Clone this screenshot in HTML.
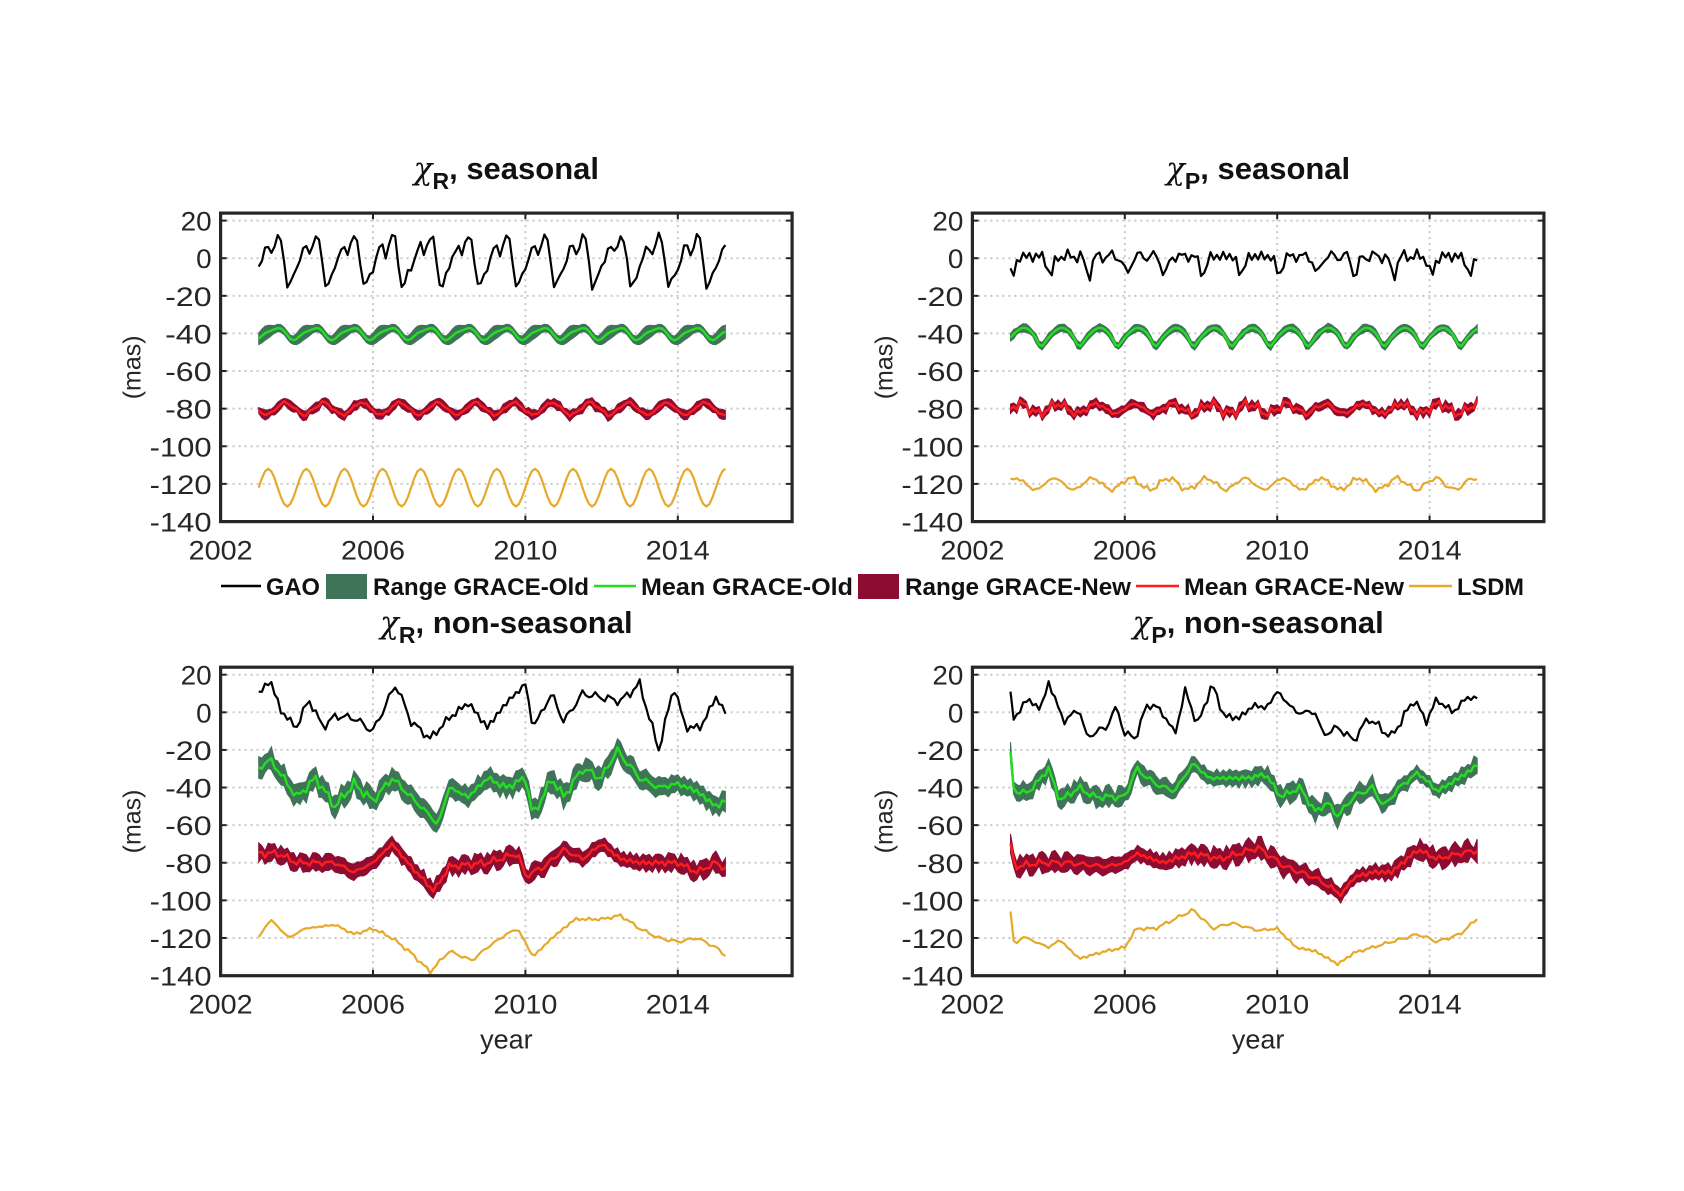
<!DOCTYPE html>
<html><head><meta charset="utf-8"><style>
html,body{margin:0;padding:0;background:#fff;}
svg{display:block;}
text{font-family:"Liberation Sans",Arial,sans-serif;}
</style></head><body>
<svg id="s" width="1684" height="1191" viewBox="0 0 1684 1191" xmlns="http://www.w3.org/2000/svg">
<rect width="1684" height="1191" fill="#fff"/>
</svg>
<script>
const S=document.getElementById('s');const NS='http://www.w3.org/2000/svg';
function el(n,a,t){const e=document.createElementNS(NS,n);for(const k in a)e.setAttribute(k,a[k]);if(t!==undefined)e.textContent=t;S.appendChild(e);return e;}
function interp(k,t){for(let i=0;i<k.length-1;i++){if(t<=k[i+1][0]){const a=k[i],b=k[i+1];const f=(t-a[0])/(b[0]-a[0]);return a[1]+f*(b[1]-a[1]);}}return k[k.length-1][1];}
function nz(t,s){return Math.sin(t*37.1+s)*0.6+Math.sin(t*91.7+2*s)*0.4+Math.sin(t*17.3+s*3)*0.5;}
const T=[];for(let t=2003.0;t<=2015.31;t+=1/12)T.push(t);
function periodic(keys,t,off){let p=((t-off)%1+1)%1;return interp(keys,p);}
function axes(x0,y0,title,sub,name,xlabel){
 const w=571.5,top=y0-7.5,bot=y0+301;const X=t=>x0+(t-2002)*38.1;const Y=v=>y0+(20-v)*1.8806;
 for(let v=20;v>=-140;v-=20){el('line',{x1:x0,x2:x0+w,y1:Y(v),y2:Y(v),stroke:'#c8c8c8','stroke-width':2,'stroke-dasharray':'2,4'});}
 for(const yr of [2006,2010,2014]){el('line',{x1:X(yr),x2:X(yr),y1:top,y2:bot,stroke:'#c8c8c8','stroke-width':2,'stroke-dasharray':'2,4'});}
 return {X,Y,x0,w,top,bot,title,sub,name,xlabel};
}
function tx(x,y,s,anchor,w){const a={x,y,'font-size':27,'text-anchor':anchor,fill:'#262626'};if(w){a.textLength=w;a.lengthAdjust='spacingAndGlyphs';}return el('text',a,s);}
function finish(a){
 const {X,Y,x0,w,top,bot}=a;
 for(let v=20;v>=-140;v-=20){el('line',{x1:x0,x2:x0+6,y1:Y(v),y2:Y(v),stroke:'#222','stroke-width':2});el('line',{x1:x0+w-6,x2:x0+w,y1:Y(v),y2:Y(v),stroke:'#222','stroke-width':2});
  const s=String(v);tx(x0-9,Y(v)+10,s,'end',s.length*15.5);}
 for(const yr of [2002,2006,2010,2014]){el('line',{x1:X(yr),x2:X(yr),y1:bot,y2:bot-6,stroke:'#222','stroke-width':2});el('line',{x1:X(yr),x2:X(yr),y1:top,y2:top+6,stroke:'#222','stroke-width':2});
  tx(X(yr),bot+38,String(yr),'middle',64);}
 el('rect',{x:x0,y:top,width:w,height:bot-top,fill:'none',stroke:'#262626','stroke-width':3.2});
 const cy=(top+bot)/2;
 el('text',{x:0,y:0,'font-size':25,'text-anchor':'middle',fill:'#262626',transform:`translate(${x0-80},${cy}) rotate(-90)`},'(mas)');
 const cx=x0+w/2;const t=el('text',{x:cx,y:top-34,'font-size':31,'font-weight':'bold','text-anchor':'middle',fill:'#111'});
 const a1=document.createElementNS(NS,'tspan');a1.setAttribute('font-family','"DejaVu Serif",serif');a1.setAttribute('font-style','italic');a1.setAttribute('font-weight','normal');a1.textContent='χ';t.appendChild(a1);
 const a2=document.createElementNS(NS,'tspan');a2.setAttribute('font-size','23');a2.setAttribute('dy','10');a2.textContent=a.sub;t.appendChild(a2);
 const a3=document.createElementNS(NS,'tspan');a3.setAttribute('dy','-10');a3.textContent=', '+a.name;t.appendChild(a3);
 if(a.xlabel)tx(cx,bot+73,'year','middle');
}
function line(a,f,col,wd){let d='';T.forEach((t,i)=>{d+=(i?'L':'M')+a.X(t).toFixed(1)+','+a.Y(f(t)).toFixed(1);});el('path',{d,fill:'none',stroke:col,'stroke-width':wd||2.2,'stroke-linejoin':'round'});}
function band(a,f,hw,col){let d='';T.forEach((t,i)=>{d+=(i?'L':'M')+a.X(t).toFixed(1)+','+a.Y(f(t)+hw(t)).toFixed(1);});for(let i=T.length-1;i>=0;i--){const t=T[i];d+='L'+a.X(t).toFixed(1)+','+a.Y(f(t)-hw(t)).toFixed(1);}el('path',{d:d+'Z',fill:col,stroke:col,'stroke-width':1});}
const GB='#3f7459',GM='#22e01e',RB='#8c0c32',RM='#ff1c1c',LS='#e6a92a';
function draw(a,gao,g,gh,r,rh,l){band(a,g,gh,GB);line(a,g,GM,2.4);band(a,r,rh,RB);line(a,r,RM,2.4);line(a,l,LS,2.2);line(a,gao,'#000',2.2);finish(a);}
const XL=220.6,XR=972.4,YT=220.6,YB=674.7;
{const a=axes(XL,YT,'','R','seasonal');
 const gk=[[0,-18],[0.1,-10],[0.25,-5],[0.45,9],[0.55,1],[0.78,15],[1,-18]];
 draw(a,t=>periodic(gk,t,0.77)+nz(t,1)*1.5,
  t=>-40+3*Math.sin(2*Math.PI*(t-0.2))+0.8*Math.sin(4*Math.PI*t),t=>2+1.8*Math.max(0,Math.sin(2*Math.PI*(t+0.1))),
  t=>-80+interp([[0,-4],[0.5,4],[1,-4]],((t-0.2)%1+1)%1)+0.6*nz(t,3),t=>1.5+1.2*Math.abs(Math.sin(3*Math.PI*t)),
  t=>-122+10*Math.cos(2*Math.PI*(t-0.25)));}
{const a=axes(XR,YT,'','P','seasonal');
 draw(a,t=>1+3*nz(t,2)+(-10)*Math.exp(-Math.pow(((t-0.55)%1+1)%1-0.5,2)*80),
  t=>-40+3*Math.sin(2*Math.PI*(t-0.1))-4*Math.exp(-Math.pow(((t-0.3)%1+1)%1-0.5,2)*60),t=>1.5+0.8*Math.abs(nz(t,4)),
  t=>-80+2.5*Math.sin(2*Math.PI*(t))+2*nz(t,5),t=>1.5+1.2*Math.abs(nz(t,6)),
  t=>-120+3*Math.sin(2*Math.PI*(t+0.1))+1.2*nz(t,7));}
{const a=axes(XL,YB,'','R','non-seasonal',true);
 const gao=[[2003,10],[2003.3,17],[2003.6,0],[2004,-8],[2004.3,7],[2004.7,-8],[2005,-2],[2005.5,-3],[2006,-10],[2006.6,15],[2007,-5],[2007.5,-14],[2008,-3],[2008.5,5],[2009,-8],[2009.5,5],[2010,15],[2010.2,-8],[2010.7,10],[2011,-5],[2011.5,10],[2012,8],[2012.5,6],[2013,15],[2013.5,-20],[2013.9,14],[2014.2,-8],[2014.6,-8],[2015,8],[2015.4,-5]];
 const g=[[2003,-30],[2003.3,-25],[2004,-45],[2004.5,-35],[2005,-50],[2005.5,-38],[2006,-47],[2006.5,-35],[2007,-45],[2007.5,-55],[2007.7,-60],[2008,-40],[2008.5,-45],[2009,-35],[2009.5,-40],[2010,-35],[2010.2,-55],[2010.7,-35],[2011,-45],[2011.5,-30],[2012,-35],[2012.4,-20],[2013,-35],[2013.5,-40],[2014,-38],[2014.5,-42],[2015,-50],[2015.4,-45]];
 const r=[[2003,-75],[2003.5,-75],[2004,-80],[2005,-80],[2005.5,-85],[2006,-80],[2006.5,-70],[2007,-82],[2007.6,-95],[2008,-82],[2009,-80],[2009.8,-75],[2010,-87],[2010.5,-82],[2011,-73],[2011.5,-78],[2012,-70],[2012.5,-78],[2013,-80],[2014,-80],[2014.5,-85],[2015,-80],[2015.4,-85]];
 const l=[[2003,-120],[2003.3,-110],[2003.8,-120],[2004.2,-115],[2005,-113],[2005.5,-118],[2006,-115],[2006.5,-120],[2007,-128],[2007.5,-138],[2008,-127],[2008.6,-132],[2009,-125],[2009.5,-118],[2009.8,-115],[2010.2,-130],[2010.7,-120],[2011.3,-110],[2012,-110],[2012.5,-108],[2013,-115],[2013.5,-120],[2014,-122],[2014.5,-120],[2015,-125],[2015.4,-132]];
 draw(a,t=>interp(gao,t)+2*nz(t,8),t=>interp(g,t)+2*nz(t,9),t=>4+2*Math.abs(nz(t,10)),t=>interp(r,t)+1.5*nz(t,11),t=>3+2*Math.abs(nz(t,12)),t=>interp(l,t)+0.8*nz(t,13));}
{const a=axes(XR,YB,'','P','non-seasonal',true);
 const gao=[[2003,10],[2003.1,-5],[2003.4,7],[2003.8,2],[2004,16],[2004.4,-5],[2004.8,2],[2005,-13],[2005.5,-8],[2005.8,3],[2006,-12],[2006.3,-13],[2006.6,5],[2007,0],[2007.3,-12],[2007.6,12],[2007.9,-7],[2008.3,15],[2008.6,-2],[2009,-3],[2009.4,4],[2009.7,2],[2010,11],[2010.5,0],[2011,0],[2011.2,-12],[2011.6,-8],[2012,-15],[2012.4,-3],[2012.8,-10],[2013,-13],[2013.6,7],[2013.9,-5],[2014.2,7],[2014.6,0],[2015,8],[2015.4,7]];
 const g=[[2003,-22],[2003.1,-43],[2003.5,-42],[2004,-30],[2004.3,-47],[2004.8,-40],[2005.2,-45],[2005.6,-45],[2006,-45],[2006.3,-30],[2006.8,-38],[2007.3,-42],[2007.8,-27],[2008.2,-35],[2008.7,-35],[2009.2,-35],[2009.7,-33],[2010.1,-45],[2010.6,-40],[2011,-53],[2011.3,-48],[2011.6,-55],[2012,-45],[2012.5,-40],[2012.8,-50],[2013.2,-40],[2013.7,-32],[2014.2,-42],[2014.6,-37],[2015,-32],[2015.4,-25]];
 const r=[[2003,-70],[2003.1,-82],[2003.8,-80],[2004.5,-80],[2005.5,-82],[2006,-80],[2006.3,-75],[2007,-80],[2007.8,-75],[2008.5,-78],[2009.5,-72],[2010.2,-82],[2011,-88],[2011.7,-97],[2012,-88],[2012.5,-85],[2013,-85],[2013.7,-73],[2014.2,-78],[2014.8,-75],[2015.4,-73]];
 const l=[[2003,-106],[2003.1,-125],[2003.3,-119],[2004,-125],[2004.3,-121],[2004.8,-131],[2005.5,-127],[2006,-125],[2006.3,-115],[2006.8,-115],[2007.3,-110],[2007.8,-105],[2008.3,-115],[2008.8,-112],[2009.5,-116],[2010,-115],[2010.5,-125],[2011,-127],[2011.6,-134],[2012,-128],[2012.5,-125],[2013,-122],[2013.7,-118],[2014.2,-122],[2014.8,-118],[2015.4,-107]];
 draw(a,t=>interp(gao,t)+2*nz(t,14),t=>interp(g,t)+1.5*nz(t,15),t=>3+2.5*Math.abs(nz(t,16)),t=>interp(r,t)+1.5*nz(t,17),t=>3+2.5*Math.abs(nz(t,18)),t=>interp(l,t)+0.8*nz(t,19));}
const LY=588;
function ll(x1,x2,c){el('line',{x1,x2,y1:LY-2,y2:LY-2,stroke:c,'stroke-width':2.5});}
function lp(x,c){el('rect',{x,y:LY-14,width:41,height:25,fill:c});}
function lt(x,w,s){el('text',{x,y:LY+7,'font-size':24,'font-weight':'bold',fill:'#111',textLength:w,lengthAdjust:'spacingAndGlyphs'},s);}
ll(221,261,'#000');lt(266,54,'GAO');
lp(326,GB);lt(373,216,'Range GRACE-Old');
ll(594,636,GM);lt(641,212,'Mean  GRACE-Old');
lp(858,RB);lt(905,226,'Range GRACE-New');
ll(1136,1179,RM);lt(1184,220,'Mean  GRACE-New');
ll(1409,1452,LS);lt(1457,67,'LSDM');
</script>
</body></html>
